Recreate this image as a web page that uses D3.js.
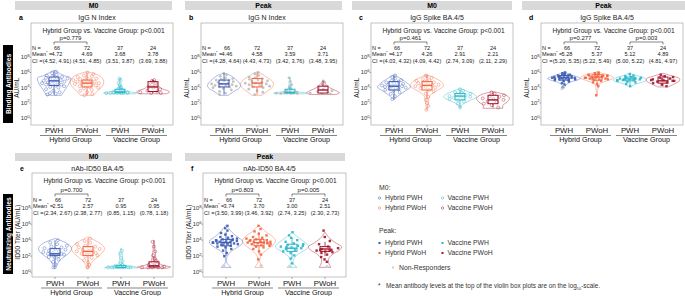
<!DOCTYPE html>
<html><head><meta charset="utf-8">
<script src="https://cdn.jsdelivr.net/npm/d3@7"></script>
<style>body{margin:0;background:#fff}svg{display:block;font-family:"Liberation Sans",Arial,sans-serif}</style>
</head><body><svg id="c" width="685" height="296"></svg>
<script>
// ---------- data ----------
const groups = ["Hybrid PWH","Hybrid PWoH","Vaccine PWH","Vaccine PWoH"];
const catLabels = ["PWH","PWoH","PWH","PWoH"];
const groupLabels = ["Hybrid Group","Vaccine Group"];
const colors = ["#3b5bb5","#f26440","#29b8c9","#a3132b"];
const panelIds = ["a","b","c","d","e","f"];
const panelTimes = ["M0","Peak","M0","Peak","M0","Peak"];
const panelTitles = ["IgG N Index","IgG N Index","IgG Spike BA.4/5","IgG Spike BA.4/5","nAb-ID50 BA.4/5","nAb-ID50 BA.4/5"];
const rowLabels = ["Binding Antibodies","Neutralizing Antibodies"];
const yAxisTitles = ["AU/mL","AU/mL","AU/mL","AU/mL","ID50 Titer (AU/mL)","ID50 Titer (AU/mL)"];
const yTicks = [0,2,4,6,8];
const nValues = [[66,72,37,24],[66,72,37,24],[66,72,37,24],[66,72,37,24],[66,72,37,24],[66,72,37,24]];
const meanValues = [
  ["4.72","4.69","3.68","3.78"],["4.46","4.58","3.59","3.71"],["4.17","4.26","2.91","2.21"],
  ["5.28","5.37","5.12","4.89"],["2.51","2.57","0.95","0.95"],["3.74","3.70","3.00","2.51"]];
const ciValues = [
  ["(4.52, 4.91)","(4.51, 4.85)","(3.51, 3.87)","(3.69, 3.88)"],
  ["(4.28, 4.64)","(4.43, 4.73)","(3.42, 3.76)","(3.48, 3.95)"],
  ["(4.03, 4.32)","(4.09, 4.42)","(2.74, 3.09)","(2.11, 2.29)"],
  ["(5.20, 5.35)","(5.22, 5.49)","(5.00, 5.22)","(4.81, 4.97)"],
  ["(2.34, 2.67)","(2.38, 2.77)","(0.85, 1.15)","(0.78, 1.18)"],
  ["(3.50, 3.99)","(3.46, 3.92)","(2.74, 3.25)","(2.30, 2.73)"]];
const overallP = ["p<0.001",null,"p<0.001","p<0.001","p<0.001","p<0.001"];
const hybridP = ["p=0.779",null,"p=0.461","p=0.277","p=0.700","p=0.803"];
const vaccineP = [null,null,null,"p=0.003",null,"p=0.005"];

// violin profiles: [log10 value, relative half-width]
const violinA = [
  [[3.0,0.45],[3.5,0.6],[4.0,0.75],[4.5,0.9],[5.0,1.0],[5.3,1.0],[5.6,0.6],[6.0,0.25],[6.3,0]],
  [[3.0,0.4],[3.5,0.6],[4.0,0.85],[4.5,1.0],[5.0,1.0],[5.5,0.8],[5.8,0.5],[6.1,0]],
  [[3.2,0.9],[3.3,1.0],[3.45,0.6],[3.7,0.2],[4.2,0.08],[4.8,0.05],[5.3,0]],
  [[3.2,0.8],[3.4,1.0],[3.6,0.9],[3.9,0.5],[4.3,0.3],[4.7,0.15],[5.0,0]]];
const violinB = [
  [[3.0,0.25],[3.5,0.6],[4.0,0.95],[4.3,1.0],[4.7,0.9],[5.2,0.65],[5.6,0.4],[5.9,0]],
  [[3.0,0.3],[3.5,0.6],[4.0,0.9],[4.5,1.0],[5.0,0.85],[5.5,0.5],[5.8,0.3],[6.1,0]],
  [[3.2,0.9],[3.3,1.0],[3.45,0.5],[3.7,0.15],[4.2,0.08],[4.8,0.05],[5.4,0]],
  [[3.1,0.7],[3.3,1.0],[3.6,0.8],[4.0,0.4],[4.5,0.15],[5.0,0]]];
const violinC = [
  [[2.4,0],[3.0,0.3],[3.6,0.7],[4.1,1.0],[4.6,0.8],[5.2,0.4],[5.7,0]],
  [[1.05,0],[1.5,0.05],[2.0,0.07],[2.5,0.1],[3.0,0.2],[3.5,0.5],[4.0,0.9],[4.3,1.0],[4.8,0.85],[5.3,0.45],[5.7,0]],
  [[1.3,0],[1.8,0.15],[2.3,0.6],[2.8,1.0],[3.2,0.8],[3.6,0.35],[3.9,0]],
  [[1.3,0.6],[1.7,0.6],[2.1,0.85],[2.6,1.0],[3.0,0.8],[3.3,0.4],[3.5,0]]];
const violinD = [
  [[3.9,0],[4.3,0.1],[4.7,0.35],[5.0,0.8],[5.2,1.0],[5.5,0.7],[5.8,0.3],[6.1,0]],
  [[3.0,0],[3.5,0.04],[4.0,0.06],[4.5,0.15],[4.9,0.6],[5.3,1.0],[5.6,0.8],[5.9,0.3],[6.1,0]],
  [[4.1,0],[4.5,0.4],[4.8,0.85],[5.0,1.0],[5.3,0.85],[5.6,0.4],[5.9,0]],
  [[4.1,0.3],[4.5,0.7],[4.9,1.0],[5.2,1.0],[5.5,0.6],[5.9,0]]];
const violinE = [
  [[0.45,0.05],[1.0,0.15],[1.5,0.3],[2.0,0.6],[2.5,0.9],[3.0,1.0],[3.5,0.8],[4.0,0.3],[4.2,0]],
  [[0.45,0.05],[1.0,0.15],[1.5,0.35],[2.0,0.65],[2.5,0.9],[3.0,1.0],[3.5,0.8],[4.0,0.4],[4.4,0]],
  [[0.55,1.0],[0.7,0.8],[0.9,0.2],[1.3,0.08],[2.0,0.08],[2.6,0.06],[3.0,0]],
  [[0.5,0.8],[0.65,1.0],[0.9,0.5],[1.3,0.2],[2.0,0.1],[3.0,0.05],[4.0,0]]];
const violinF = [
  [[0.6,0.3],[0.9,0.15],[1.3,0.03],[2.0,0.08],[2.5,0.25],[3.0,0.6],[3.5,0.95],[3.9,1.0],[4.4,0.7],[5.0,0.35],[5.5,0.15],[5.9,0]],
  [[0.6,0.25],[0.9,0.15],[1.3,0.04],[2.0,0.1],[2.5,0.3],[3.0,0.6],[3.5,0.9],[4.0,1.0],[4.5,0.8],[5.0,0.45],[5.5,0.2],[5.9,0]],
  [[0.6,0.3],[0.9,0.15],[1.2,0.05],[1.8,0.15],[2.3,0.4],[2.8,0.8],[3.2,1.0],[3.7,0.8],[4.3,0.4],[5.0,0]],
  [[0.6,0.35],[1.0,0.25],[1.4,0.2],[1.8,0.25],[2.3,0.5],[2.8,0.9],[3.2,1.0],[3.6,0.7],[4.2,0.3],[5.0,0]]];

// box stats: [lower whisker, q1, median, q3, upper whisker]
const boxA = [[3.1,4.3,4.9,5.4,6.2],[3.0,4.1,4.6,5.0,6.0],[3.3,3.35,3.45,3.8,4.3],[3.3,3.5,4.1,4.8,5.0]];
const boxB = [[3.1,4.1,4.5,5.0,5.9],[3.1,4.1,4.6,5.2,6.0],[3.25,3.3,3.4,3.8,4.4],[3.2,3.3,3.7,4.2,4.9]];
const boxC = [[2.5,3.7,4.2,4.8,5.6],[2.5,3.7,4.3,4.8,5.6],[1.4,2.4,2.9,3.25,3.8],[1.4,1.9,2.4,3.0,3.4]];
const boxD = [[4.4,5.0,5.3,5.6,6.0],[4.2,5.0,5.4,5.7,6.0],[4.2,4.9,5.15,5.4,5.8],[4.2,4.6,4.9,5.4,5.7]];
const boxE = [[0.6,2.1,2.3,2.95,4.0],[0.6,2.1,2.6,3.2,4.2],[0.6,0.6,0.6,0.85,1.1],[0.6,0.65,0.8,1.3,2.0]];
const boxF = [[2.0,3.3,3.7,4.1,5.0],[2.2,3.3,3.7,4.1,5.0],[1.7,2.6,3.0,3.5,4.3],[2.0,2.6,2.9,3.2,3.8]];

// individual log10 values
const pointsA = [
  "3.1 3.2 3.3 3.4 3.6 3.8 4.0 4.1 4.2 4.3 4.4 4.4 4.5 4.6 4.7 4.7 4.8 4.9 4.9 5.0 5.1 5.2 5.3 5.3 5.4 5.5 5.6 5.7 5.9 6.1",
  "3.0 3.2 3.4 3.6 3.7 3.9 4.0 4.1 4.2 4.3 4.4 4.5 4.5 4.6 4.6 4.7 4.8 4.8 4.9 5.0 5.0 5.1 5.2 5.3 5.4 5.5 5.6 5.8 6.0",
  "3.3 3.3 3.3 3.3 3.3 3.3 3.35 3.4 3.4 3.45 3.5 3.6 3.7 3.8 3.9 4.1 4.3 4.6 5.0 5.2",
  "3.3 3.3 3.4 3.5 3.6 3.8 4.0 4.1 4.2 4.4 4.6 4.8 4.9 5.0"];
const pointsB = [
  "3.1 3.3 3.5 3.7 3.9 4.0 4.1 4.1 4.2 4.3 4.3 4.4 4.5 4.5 4.6 4.7 4.8 4.9 5.0 5.0 5.1 5.2 5.3 5.5 5.7 5.9",
  "3.1 3.4 3.6 3.8 4.0 4.1 4.2 4.3 4.4 4.5 4.6 4.6 4.7 4.8 4.9 5.0 5.1 5.2 5.3 5.4 5.6 5.8 6.0",
  "3.25 3.25 3.25 3.3 3.3 3.3 3.35 3.4 3.5 3.6 3.8 4.0 4.4 4.8 5.3",
  "3.2 3.2 3.3 3.4 3.5 3.6 3.8 4.0 4.2 4.4 4.7 4.9"];
const pointsC = [
  "2.5 2.9 3.2 3.4 3.6 3.7 3.8 3.9 4.0 4.0 4.1 4.2 4.2 4.3 4.3 4.4 4.5 4.6 4.7 4.8 4.9 5.0 5.2 5.4 5.6",
  "1.1 1.6 2.0 2.4 2.8 3.2 3.5 3.7 3.9 4.0 4.1 4.2 4.3 4.3 4.4 4.5 4.6 4.7 4.8 4.9 5.0 5.1 5.3 5.5 5.6",
  "1.4 1.9 2.2 2.4 2.5 2.6 2.7 2.8 2.9 2.9 3.0 3.1 3.2 3.3 3.4 3.6 3.8",
  "1.4 1.7 1.9 2.1 2.2 2.4 2.5 2.6 2.8 2.9 3.0 3.2 3.4"];
const pointsD = [
  "4.0 4.4 4.6 4.8 4.9 5.0 5.0 5.1 5.1 5.2 5.2 5.3 5.3 5.3 5.4 5.4 5.5 5.5 5.6 5.6 5.7 5.7 5.8 5.9 6.0 5.2 5.4 5.1 5.5 5.3",
  "3.0 4.2 4.5 4.7 4.9 5.0 5.1 5.1 5.2 5.2 5.3 5.3 5.4 5.4 5.5 5.5 5.6 5.6 5.7 5.7 5.8 5.9 6.0 5.4 5.3 5.5 5.2 5.6",
  "4.2 4.5 4.7 4.8 4.9 5.0 5.0 5.1 5.1 5.2 5.2 5.3 5.3 5.4 5.5 5.6 5.8 5.0 5.2 5.1",
  "4.2 4.4 4.6 4.7 4.8 4.9 5.0 5.1 5.2 5.3 5.4 5.5 5.7 4.9 5.1 5.0"];
const pointsE = [
  "0.6 1.0 1.3 1.6 1.8 1.9 2.0 2.1 2.2 2.2 2.3 2.3 2.4 2.5 2.6 2.7 2.8 2.9 3.0 3.1 3.2 3.3 3.5 3.7 4.0",
  "0.6 0.9 1.2 1.5 1.8 2.0 2.1 2.2 2.3 2.4 2.5 2.6 2.7 2.8 2.9 3.0 3.1 3.2 3.3 3.5 3.7 3.9 4.2",
  "0.6 0.6 0.6 0.6 0.6 0.6 0.6 0.6 0.7 0.8 0.9 1.1 1.4 1.8 2.3 2.7",
  "0.6 0.6 0.6 0.6 0.6 0.7 0.8 0.9 1.0 1.2 1.4 1.7 2.1 2.6 3.2 3.8"];
const pointsF = [
  "2.0 2.4 2.7 2.9 3.1 3.2 3.3 3.4 3.5 3.5 3.6 3.6 3.7 3.7 3.8 3.8 3.9 3.9 4.0 4.0 4.1 4.2 4.3 4.4 4.5 4.7 4.9 5.2 5.5 5.8 3.6 3.9 4.1 3.4 3.7",
  "1.6 2.2 2.6 2.9 3.1 3.2 3.3 3.4 3.5 3.6 3.6 3.7 3.7 3.8 3.8 3.9 3.9 4.0 4.1 4.2 4.3 4.4 4.6 4.8 5.1 5.4 5.8 3.5 3.8 4.0 3.7",
  "1.1 1.7 2.1 2.4 2.6 2.8 2.9 3.0 3.1 3.2 3.3 3.4 3.5 3.6 3.8 4.0 4.3 4.6 5.0 3.1 3.3",
  "1.3 1.6 1.9 2.2 2.4 2.5 2.6 2.7 2.8 2.9 3.0 3.2 3.5 3.9 4.4 5.2 2.7 2.8"];
// non-responders: [group index, log10 value]
const nonRespD = [[0,3.85]];
const nonRespF = [[0,0.85],[1,0.85],[2,0.7],[3,0.7]];

const violins = [violinA,violinB,violinC,violinD,violinE,violinF];
const boxes = [boxA,boxB,boxC,boxD,boxE,boxF];
const points = [pointsA,pointsB,pointsC,pointsD,pointsE,pointsF];
const nonResp = [[],[],[],nonRespD,[],nonRespF];

// ---------- layout ----------
const svg = d3.select("#c");
const panelBoxes = [
  {x:31,y:23,w:142,h:102,dom:[-0.9,12.5],hx:15,hw:157},
  {x:201,y:23,w:142,h:102,dom:[-0.9,12.5],hx:185,hw:157},
  {x:371,y:23,w:142,h:102,dom:[-0.9,12.5],hx:352,hw:160},
  {x:541,y:23,w:142,h:102,dom:[-0.9,12.5],hx:522,hw:163},
  {x:32,y:173,w:141,h:104,dom:[-0.6,12.4],hx:15,hw:157},
  {x:203,y:173,w:143,h:104,dom:[-0.6,12.4],hx:185,hw:160}];
const TXT = "#222";

// row labels
const rowBars = [{y:45,h:78},{y:194,h:80}];
rowBars.forEach((b,i)=>{
  svg.append("rect").attr("x",3).attr("y",b.y).attr("width",10).attr("height",b.h).attr("fill","#000");
  svg.append("text").attr("transform",`translate(10.5,${b.y+b.h/2}) rotate(-90)`)
    .attr("text-anchor","middle").attr("fill","#fff").attr("font-size",6.6).attr("font-weight","bold")
    .text(rowLabels[i]);
});

function halfWidth(prof, v){
  if (v<=prof[0][0]) return prof[0][1];
  for (let k=1;k<prof.length;k++){
    if (v<=prof[k][0]){
      const a=prof[k-1], b=prof[k];
      return a[1]+(b[1]-a[1])*(v-a[0])/(b[0]-a[0]);
    }
  }
  return 0;
}

panelIds.forEach((pid,pi)=>{
  const B = panelBoxes[pi];
  const top = pi<4;
  const g = svg.append("g");
  // header bar
  const hy = top?1:153, hh = top?9:8;
  g.append("rect").attr("x",B.hx).attr("y",hy).attr("width",B.hw).attr("height",hh).attr("fill","#d9d9d9");
  g.append("text").attr("x",B.hx+B.hw/2).attr("y",hy+hh/2+2.4).attr("text-anchor","middle")
    .attr("font-size",7).attr("font-weight","bold").attr("fill","#000").text(panelTimes[pi]);
  // letter and title
  const ty = top?19.5:170.5;
  g.append("text").attr("x",B.x-12).attr("y",ty).attr("font-size",7).attr("font-weight","bold").attr("fill","#000").text(pid);
  g.append("text").attr("x",B.x+B.w/2-5).attr("y",ty).attr("text-anchor","middle").attr("font-size",7).attr("fill",TXT).text(panelTitles[pi]);

  const y = d3.scaleLinear().domain(B.dom).range([B.y+B.h, B.y]);
  const x = d3.scalePoint().domain(d3.range(4)).range([B.x+23, B.x+122]);
  const maxHW = 16.5;

  // frame
  g.append("rect").attr("x",B.x).attr("y",B.y).attr("width",B.w).attr("height",B.h)
    .attr("fill","none").attr("stroke","#a8a8a8").attr("stroke-width",0.7);

  // y axis
  yTicks.forEach(t=>{
    const yy=y(t);
    g.append("line").attr("x1",B.x-1.5).attr("x2",B.x).attr("y1",yy).attr("y2",yy).attr("stroke","#555").attr("stroke-width",0.5);
    const tx = g.append("text").attr("x",B.x-1.5).attr("y",yy+2).attr("text-anchor","end").attr("font-size",5.8).attr("fill","#333");
    tx.append("tspan").text("10");
    tx.append("tspan").attr("dy",-2.6).attr("font-size",4.2).text(t);
  });
  const yMid = top ? (y(0)+y(8))/2 : (y(0)+y(8))/2 - 8;
  g.append("text").attr("transform",`translate(${B.x-12},${yMid}) rotate(-90)`).attr("text-anchor","middle")
    .attr("font-size",6.6).attr("fill",TXT).text(yAxisTitles[pi]);

  // x axis
  const lblY = top?133:285.5;
  catLabels.forEach((c,i)=>{
    g.append("line").attr("x1",x(i)).attr("x2",x(i)).attr("y1",B.y+B.h).attr("y2",B.y+B.h+2).attr("stroke","#555").attr("stroke-width",0.5);
    g.append("text").attr("x",x(i)).attr("y",lblY).attr("text-anchor","middle").attr("font-size",7.8).attr("fill","#111").text(c);
  });
  groupLabels.forEach((gl,k)=>{
    const x1=x(2*k)-14, x2=x(2*k+1)+14;
    g.append("line").attr("x1",x1).attr("x2",x2).attr("y1",lblY+2.5).attr("y2",lblY+2.5).attr("stroke","#333").attr("stroke-width",0.6);
    g.append("text").attr("x",(x1+x2)/2).attr("y",lblY+9).attr("text-anchor","middle").attr("font-size",7.2).attr("fill","#111").text(gl);
  });

  // annotations
  const cx0 = (x(0)+x(3))/2;
  if (overallP[pi]) g.append("text").attr("x",cx0).attr("y",B.y+9.5).attr("text-anchor","middle").attr("font-size",6.6).attr("fill",TXT)
    .text("Hybrid Group vs. Vaccine Group: "+overallP[pi]);
  const bo = top?0:2;
  [[hybridP[pi],0],[vaccineP[pi],2]].forEach(([p,i0])=>{
    if(!p) return;
    const x1=x(i0), x2=x(i0+1), ly=B.y+19+bo;
    g.append("path").attr("d",`M${x1},${ly+2.5}V${ly}H${x2}V${ly+2.5}`).attr("fill","none").attr("stroke","#333").attr("stroke-width",0.6);
    g.append("text").attr("x",(x1+x2)/2).attr("y",ly-2).attr("text-anchor","middle").attr("font-size",6).attr("fill",TXT).text(p);
  });
  const nY=B.y+27+bo, mY=B.y+33+bo, cY=B.y+40+bo;
  const fs=5.6;
  g.append("text").attr("x",B.x+1).attr("y",nY).attr("font-size",fs).attr("fill",TXT).text("N =");
  const mt=g.append("text").attr("x",B.x+1).attr("y",mY).attr("font-size",fs).attr("fill",TXT);
  mt.append("tspan").text("Mean");mt.append("tspan").attr("dy",-1.8).attr("font-size",4).text("*");mt.append("tspan").attr("dy",1.8).text(" =");
  g.append("text").attr("x",B.x+1).attr("y",cY).attr("font-size",fs).attr("fill",TXT).text("CI =");
  for(let i=0;i<4;i++){
    const xo = x(i)+(i==0?3:0);
    g.append("text").attr("x",xo).attr("y",nY).attr("text-anchor","middle").attr("font-size",fs).attr("fill",TXT).text(nValues[pi][i]);
    g.append("text").attr("x",xo).attr("y",mY).attr("text-anchor","middle").attr("font-size",fs).attr("fill",TXT).text(meanValues[pi][i]);
    g.append("text").attr("x",xo).attr("y",cY).attr("text-anchor","middle").attr("font-size",fs).attr("fill",TXT).text(ciValues[pi][i]);
  }

  // violins, points, boxes
  const peak = panelTimes[pi]==="Peak";
  for(let i=0;i<4;i++){
    const prof = violins[pi][i];
    const col = colors[i];
    const cx = x(i);
    const right = prof.map(d=>[cx+d[1]*maxHW, y(d[0])]);
    const left = prof.slice().reverse().map(d=>[cx-d[1]*maxHW, y(d[0])]);
    const line = d3.line().curve(d3.curveCatmullRom.alpha(0.5));
    const dPath = line(right) + "L" + line(left).slice(1) + "Z";
    g.append("path").attr("d",dPath).attr("fill", "#fff").attr("fill-opacity",0.2)
      .attr("stroke",col).attr("stroke-opacity",0.6).attr("stroke-width",0.7);

    // points
    const vals = points[pi][i].split(" ").map(Number);
    vals.forEach((v,k)=>{
      const u = ((k*0.6180339887+ i*0.27)%1)-0.5;
      const hw = Math.max(halfWidth(prof,v),0.12)*maxHW*0.85;
      const px = cx + u*2*hw, py = y(v);
      if (pi===1){
        g.append("circle").attr("cx",px).attr("cy",py).attr("r",1.4).attr("fill","#b5b5b5").attr("fill-opacity",0.8);
      } else if (peak){
        g.append("rect").attr("x",px-1.2).attr("y",py-1.2).attr("width",2.4).attr("height",2.4).attr("fill",col).attr("fill-opacity",0.9);
      } else {
        g.append("circle").attr("cx",px).attr("cy",py).attr("r",1.5).attr("fill","none").attr("stroke",col).attr("stroke-width",0.55).attr("stroke-opacity",0.75);
      }
    });

    // box
    const bs = boxes[pi][i], bw=10;
    g.append("line").attr("x1",cx).attr("x2",cx).attr("y1",y(bs[0])).attr("y2",y(bs[1])).attr("stroke",col).attr("stroke-width",0.8);
    g.append("line").attr("x1",cx).attr("x2",cx).attr("y1",y(bs[3])).attr("y2",y(bs[4])).attr("stroke",col).attr("stroke-width",0.8);
    g.append("rect").attr("x",cx-bw/2).attr("y",y(bs[3])).attr("width",bw).attr("height",Math.max(0.8,y(bs[1])-y(bs[3])))
      .attr("fill","#fff").attr("fill-opacity",peak?0.15:0.35).attr("stroke",col).attr("stroke-width",1);
    g.append("line").attr("x1",cx-bw/2).attr("x2",cx+bw/2).attr("y1",y(bs[2])).attr("y2",y(bs[2])).attr("stroke",col).attr("stroke-width",1.4);
  }
  nonResp[pi].forEach(([i,v],k)=>{
    g.append("circle").attr("cx",x(i)+(k%2?2:-2)).attr("cy",y(v)).attr("r",1.5).attr("fill","#d0d0d0");
  });
});

// ---------- legend ----------
const lg = svg.append("g").attr("font-size",6.8).attr("fill","#333");
lg.append("text").attr("x",379).attr("y",190).text("M0:");
lg.append("text").attr("x",379).attr("y",233).text("Peak:");
const legRows = [198,208,243,253];
const legItems = [[0,2],[1,3]];
[0,1].forEach(r=>{
  [0,1].forEach(cIdx=>{
    const gi = legItems[r][cIdx];
    const sx = cIdx===0?379.5:442.5, tx = cIdx===0?385:447.5;
    [false,true].forEach((pk,pj)=>{
      const yy = legRows[r+2*pj];
      if(pk){
        lg.append("rect").attr("x",sx-1).attr("y",yy-1).attr("width",2).attr("height",2).attr("fill",colors[gi]);
      } else {
        lg.append("circle").attr("cx",sx).attr("cy",yy).attr("r",1.2).attr("fill","none").attr("stroke",colors[gi]).attr("stroke-width",0.5);
      }
      lg.append("text").attr("x",tx).attr("y",yy+2.4).text(groups[gi]);
    });
  });
});
lg.append("circle").attr("cx",393).attr("cy",267.5).attr("r",1.2).attr("fill","#d0d0d0");
lg.append("text").attr("x",399).attr("y",270).text("Non-Responders");
lg.append("text").attr("x",378).attr("y",287.5).attr("font-size",6.4).text("*");
const fn = lg.append("text").attr("x",386).attr("y",288).attr("font-size",6.4);
fn.append("tspan").text("Mean antibody levels at the top of the violin box plots are on the log");
fn.append("tspan").attr("dy",1.6).attr("font-size",4).text("10");
fn.append("tspan").attr("dy",-1.6).text("-scale.");
</script></body></html>
